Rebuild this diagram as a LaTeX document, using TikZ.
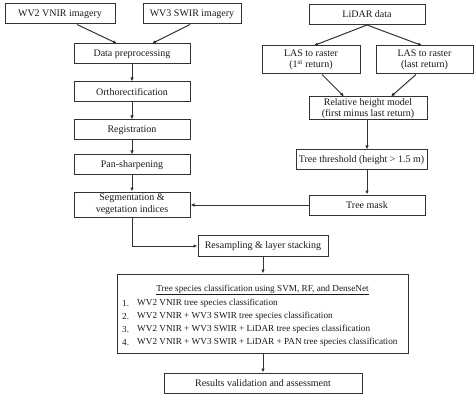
\documentclass[tikz,border=0pt]{standalone}
\usepackage{fontspec}
\setmainfont{Liberation Serif}
\usetikzlibrary{arrows.meta}
\begin{document}
\begin{tikzpicture}[x=1pt,y=-1pt,
  box/.style={draw=black!80,line width=1pt,rectangle,inner sep=0pt,align=center,font=\fontsize{10}{11.5}\selectfont,text=black!90},
  arr/.style={draw=black!80,line width=1pt,-{Latex[length=4pt,width=3.5pt]}},
  txt/.style={inner sep=0pt,font=\fontsize{9.2}{11}\selectfont,text=black!90}]
\useasboundingbox (0,0) rectangle (474,409);
\node[box,minimum width=110pt,minimum height=20pt] (wv2) at (60,14) {WV2 VNIR imagery};
\node[box,minimum width=98pt,minimum height=20pt] (wv3) at (192,14) {WV3 SWIR imagery};
\node[box,minimum width=116pt,minimum height=20pt] (lidar) at (367,14.5) {LiDAR data};
\node[box,minimum width=116pt,minimum height=20pt] (prep) at (132,54) {Data preprocessing};
\node[box,minimum width=116pt,minimum height=20pt] (ortho) at (132,92) {Orthorectification};
\node[box,minimum width=116pt,minimum height=20pt] (reg) at (132,130) {Registration};
\node[box,minimum width=116pt,minimum height=20pt] (pan) at (132,165) {Pan-sharpening};
\node[box,minimum width=116pt,minimum height=25pt] (seg) at (132,204.5) {Segmentation \&\\vegetation indices};
\node[box,minimum width=98pt,minimum height=28pt] (las1) at (311,60) {LAS to raster\\(1\textsuperscript{st} return)};
\node[box,minimum width=97pt,minimum height=28pt] (las2) at (424.5,60) {LAS to raster\\(last return)};
\node[box,minimum width=118pt,minimum height=23pt] (rhm) at (368,108.5) {Relative height model\\(first minus last return)};
\node[box,minimum width=131pt,minimum height=20pt] (thr) at (361.5,160) {Tree threshold (height {>} 1.5 m)};
\node[box,minimum width=116pt,minimum height=20pt] (mask) at (367,205) {Tree mask};
\node[box,minimum width=130pt,minimum height=21pt] (res) at (263,246) {Resampling \& layer stacking};
\node[box,minimum width=291pt,minimum height=79pt] (big) at (262.5,313.5) {};
\node[txt] (title) at (262.5,290) {\underline{Tree species classification using SVM, RF, and DenseNet}};
\node[txt,anchor=west] (n1) at (122,303.5) {1.};
\node[txt,anchor=west] (n2) at (122,316.5) {2.};
\node[txt,anchor=west] (n3) at (122,329.5) {3.};
\node[txt,anchor=west] (n4) at (122,342.5) {4.};
\node[txt,anchor=west] (i1) at (137,303.5) {WV2 VNIR tree species classification};
\node[txt,anchor=west] (i2) at (137,316.5) {WV2 VNIR + WV3 SWIR tree species classification};
\node[txt,anchor=west] (i3) at (137,329.5) {WV2 VNIR + WV3 SWIR + LiDAR tree species classification};
\node[txt,anchor=west] (i4) at (137,342.5) {WV2 VNIR + WV3 SWIR + LiDAR + PAN tree species classification};
\node[box,minimum width=198pt,minimum height=20pt] (results) at (263,383) {Results validation and assessment};
% connectors
\draw[arr] ([xshift=17pt]wv2.south) -- ([xshift=-15pt]prep.north);
\draw[arr] ([xshift=-2pt]wv3.south) -- ([xshift=20pt]prep.north);
\draw[arr] (prep) -- (ortho);
\draw[arr] (ortho) -- (reg);
\draw[arr] (reg) -- (pan);
\draw[arr] (pan) -- (seg);
\draw[arr] (lidar.south) -- ([xshift=3pt]las1.north);
\draw[arr] (lidar.south) -- ([xshift=-2.5pt]las2.north);
\draw[arr] ([xshift=11pt]las1.south) -- ([xshift=-24pt]rhm.north);
\draw[arr] ([xshift=-8.5pt]las2.south) -- ([xshift=23pt]rhm.north);
\draw[arr] ([xshift=-1pt]rhm.south) -- ([xshift=-1pt]rhm.south |- thr.north);
\draw[arr] (thr.south -| mask.north) -- (mask.north);
\draw[arr] (mask.west) -- (mask.west -| seg.east);
\draw[arr] (seg.south) |- (res.west);
\draw[arr] (res.south) -- (res.south |- big.north);
\draw[arr] (results.north |- big.south) -- (results.north);
\end{tikzpicture}
\end{document}
